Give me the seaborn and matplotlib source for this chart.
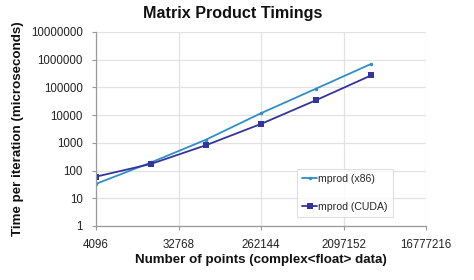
import matplotlib
matplotlib.use("Agg")
import matplotlib.pyplot as plt
import matplotlib.ticker as mticker
import seaborn as sns
import pandas as pd

points = [4096, 16384, 65536, 262144, 1048576, 4194304]
x86_times = [33, 195, 1300, 11700, 90000, 700000]
cuda_times = [60, 173, 820, 4800, 34500, 270000]
series_names = ["mprod (x86)", "mprod (CUDA)"]
x_ticks = [4096, 32768, 262144, 2097152, 16777216]
y_ticks = [1, 10, 100, 1000, 10000, 100000, 1000000, 10000000]

df = pd.DataFrame({
    "points": points * 2,
    "time": x86_times + cuda_times,
    "series": [series_names[0]] * len(points) + [series_names[1]] * len(points),
})

sns.set_theme(style="whitegrid")
plt.rcParams["font.family"] = ["Liberation Sans", "DejaVu Sans"]

fig = plt.figure(figsize=(4.74, 2.8), dpi=100)
ax = fig.add_axes([0.2025, 0.193, 0.6965, 0.693])

palette = {series_names[0]: "#2F8FC8", series_names[1]: "#34349A"}
markers = {series_names[0]: "o", series_names[1]: "s"}
sizes = {series_names[0]: 2.5, series_names[1]: 5}

for name in series_names:
    sub = df[df["series"] == name]
    sns.lineplot(data=sub, x="points", y="time", ax=ax, color=palette[name],
                 marker=markers[name], markersize=sizes[name], linewidth=1.3,
                 markeredgewidth=0, label=name)

ax.set_xscale("log", base=2)
ax.set_yscale("log")
ax.set_xlim(4096, 16777216)
ax.set_ylim(1, 10000000)
ax.xaxis.set_major_locator(mticker.FixedLocator(x_ticks))
ax.xaxis.set_major_formatter(mticker.FixedFormatter([str(v) for v in x_ticks]))
ax.xaxis.set_minor_locator(mticker.NullLocator())
ax.yaxis.set_major_locator(mticker.FixedLocator(y_ticks))
ax.yaxis.set_major_formatter(mticker.FixedFormatter([str(v) for v in y_ticks]))
ax.yaxis.set_minor_locator(mticker.NullLocator())

ax.grid(True, color="#E2E2E2", linewidth=0.9)
for s in ["top", "right"]:
    ax.spines[s].set_visible(False)
for s in ["left", "bottom"]:
    ax.spines[s].set_color("#9A9A9A")
    ax.spines[s].set_linewidth(0.9)
ax.tick_params(axis="both", labelsize=8.3, labelcolor="#222222", length=3, width=0.8,
               color="#9A9A9A", direction="out", left=True, bottom=True)
ax.tick_params(axis="x", pad=6.5)
ax.tick_params(axis="y", pad=6.5)

ax.set_xlabel("Number of points (complex<float> data)", fontsize=9.6, fontweight="bold",
              color="#111111", labelpad=2)
ax.set_ylabel("Time per iteration (microseconds)", fontsize=9.6, fontweight="bold",
              color="#111111", labelpad=5)
fig.suptitle("Matrix Product Timings", x=0.49, y=0.978, fontsize=11.6, fontweight="bold",
             color="#111111")

leg = ax.legend(loc="upper left", bbox_to_anchor=(0.609, 0.294), borderaxespad=0,
                frameon=True, fontsize=7.6, labelspacing=1.7, handlelength=1.42,
                handletextpad=0.1, borderpad=0.5, fancybox=False)
leg.get_frame().set_edgecolor("#D8D8D8")
leg.get_frame().set_linewidth(0.8)

fig.savefig("out.png", dpi=100)
